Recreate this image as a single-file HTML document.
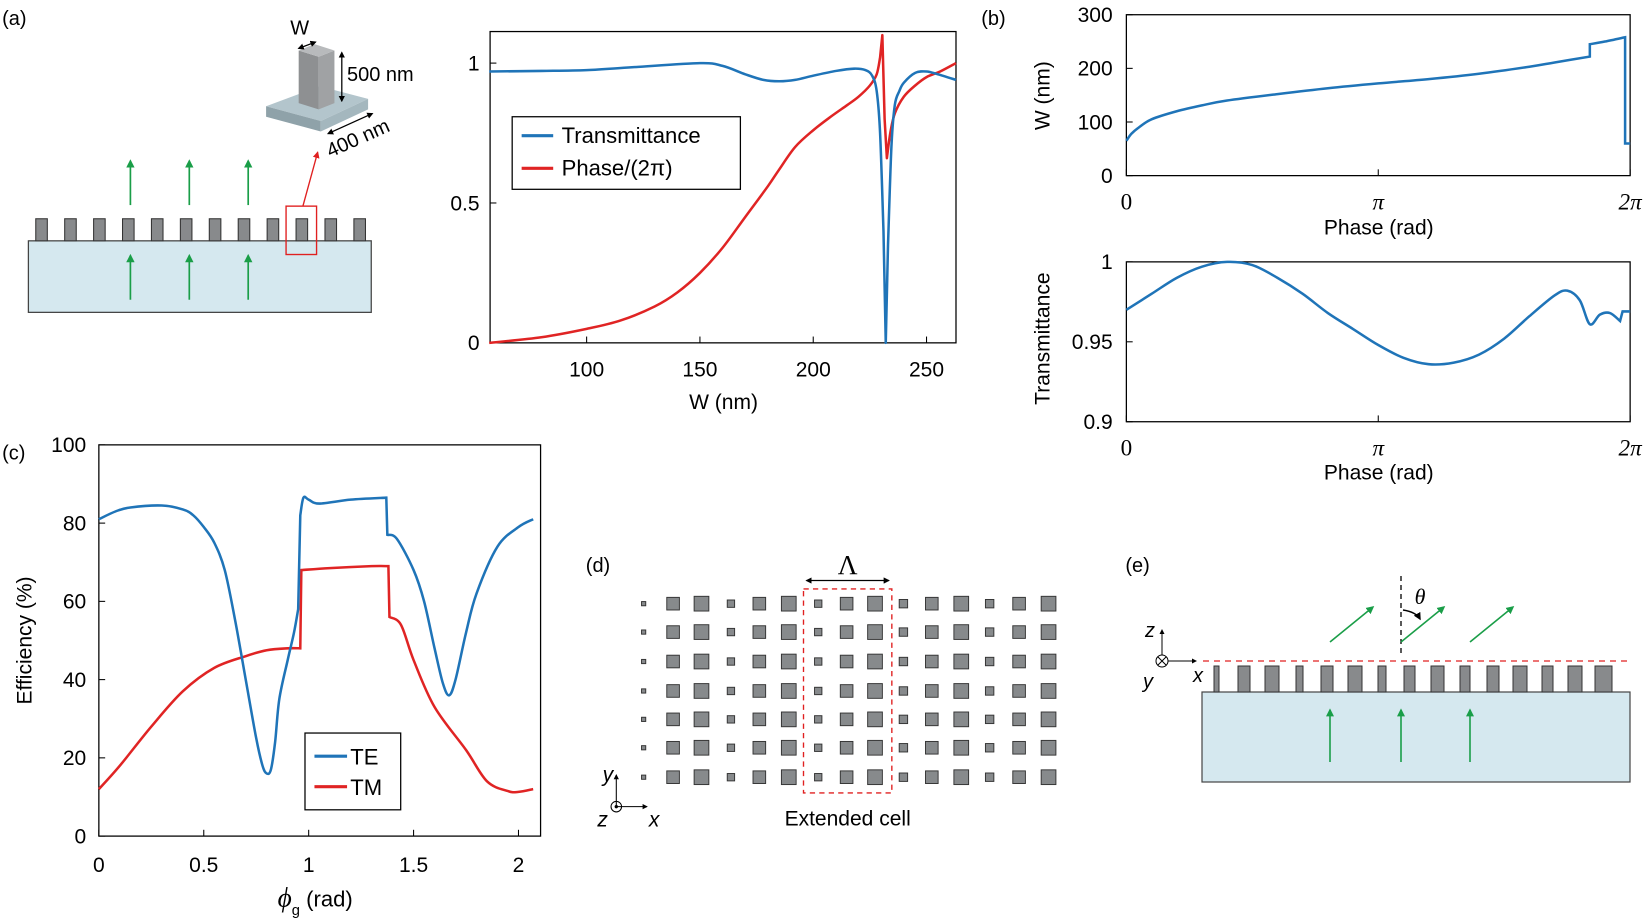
<!DOCTYPE html>
<html><head><meta charset="utf-8"><style>
html,body{margin:0;padding:0;background:#fff;}
svg{display:block;font-family:"Liberation Sans",sans-serif;}
</style></head><body>
<svg id="fig" width="1649" height="920" viewBox="0 0 1649 920" xmlns="http://www.w3.org/2000/svg">
<defs>
<marker id="ag" viewBox="0 0 10 10" refX="8" refY="5" markerWidth="5" markerHeight="5" orient="auto"><path d="M0,0L10,5L0,10z" fill="#1a9e48"/></marker>
<marker id="ak" viewBox="0 0 10 10" refX="8" refY="5" markerWidth="5" markerHeight="5" orient="auto-start-reverse"><path d="M0,0L10,5L0,10z" fill="#000"/></marker>
<marker id="ar" viewBox="0 0 10 10" refX="8" refY="5" markerWidth="5" markerHeight="5" orient="auto"><path d="M0,0L10,5L0,10z" fill="#e02020"/></marker>
</defs>
<g id="root" transform="scale(1.0517)"></g>
<g id="rootE"></g>
</svg>
<script>
// ---- Panel (a) chart data ----
const aW = [57,80,100,120,150,160,170,178,185,192,200,210,218,223,226,228,229.5,231,232,233,234.5,236,238,240,245,250,255,263];
const aTrans = [0.97,0.972,0.975,0.985,1.0,0.99,0.96,0.94,0.935,0.94,0.955,0.972,0.98,0.975,0.955,0.9,0.75,0.4,0.0,0.35,0.7,0.85,0.9,0.93,0.965,0.97,0.96,0.94];
const aPW = [57,80,100,115,130,140,150,160,170,180,185,192,200,208,215,220,225,228,229.5,230.5,231.5,232.5,234,236,240,245,250,256,263];
const aPhase = [0,0.02,0.05,0.08,0.13,0.18,0.25,0.34,0.45,0.56,0.62,0.7,0.76,0.81,0.85,0.88,0.92,0.96,1.02,1.1,0.8,0.66,0.75,0.82,0.88,0.92,0.95,0.97,1.0];
const aXTicks = [100,150,200,250];
const aYTicks = [0,0.5,1];
const aYTickLabels = ["0","0.5","1"];
// ---- Panel (b) data (phase in units of pi) ----
const bPhase = [0,0.02,0.05,0.1,0.2,0.3,0.4,0.6,0.8,1.0,1.2,1.4,1.6,1.7,1.84,1.84,1.9,1.98,1.98,2.0];
const bWidth = [65,78,90,105,120,131,140,152,163,172,180,190,203,211,222,245,250,258,60,60];
const bTPhase = [0,0.1,0.2,0.3,0.4,0.5,0.6,0.7,0.8,0.9,1.0,1.1,1.2,1.3,1.4,1.5,1.6,1.7,1.75,1.8,1.84,1.88,1.92,1.96,1.97,2.0];
const bTrans = [0.97,0.98,0.99,0.997,1.0,0.998,0.99,0.98,0.968,0.958,0.948,0.94,0.936,0.937,0.942,0.952,0.966,0.979,0.982,0.976,0.961,0.967,0.968,0.963,0.969,0.969];
const bXLabels = ["0","\u03c0","2\u03c0"];
const bXTicks = [0,1,2];
const bWTicks = [0,100,200,300];
const bTTicks = [0.9,0.95,1];
const bTTickLabels = ["0.9","0.95","1"];
// ---- Panel (c) data ----
const cTEx = [0,0.08,0.15,0.3,0.4,0.45,0.5,0.55,0.6,0.65,0.7,0.75,0.78,0.8,0.82,0.84,0.86,0.9,0.93,0.95,0.96,0.975,1.0,1.05,1.2,1.37,1.375,1.42,1.5,1.55,1.6,1.64,1.67,1.7,1.75,1.8,1.9,2.0,2.07];
const cTE = [81,83,84,84.5,83.5,82,79,75,68,55,40,25,18,16,17,24,35,45,52,58,82,86.5,86,85,86,86.5,77,76,68,60,48,39,36,40,52,62,74,79,81];
const cTMx = [0,0.1,0.25,0.4,0.55,0.7,0.8,0.9,0.96,0.965,1.1,1.3,1.38,1.385,1.44,1.5,1.6,1.75,1.85,1.95,2.0,2.07];
const cTM = [12,18,28,37,43,46,47.5,48,48,68,68.5,69,69,56,54,45,33,22,14,11.5,11.3,12];
const cXTicks = [0,0.5,1,1.5,2];
const cXTickLabels = ["0","0.5","1","1.5","2"];
const cYTicks = [0,20,40,60,80,100];

const NS="http://www.w3.org/2000/svg";
const root=document.getElementById('root');
const rootE=document.getElementById('rootE');
function el(tag,attrs,parent,text){const e=document.createElementNS(NS,tag);for(const k in attrs)e.setAttribute(k,attrs[k]);if(text!==undefined)e.textContent=text;(parent||root).appendChild(e);return e;}
function lin(d0,d1,r0,r1){return v=>r0+(v-d0)/(d1-d0)*(r1-r0);}
function pathOf(xs,ys,sx,sy){
  const P=xs.map((x,i)=>[sx(x),sy(ys[i])]);
  const n=P.length;
  function jump(i,j){return Math.abs(P[i][0]-P[j][0])<2.5;}
  let d='M'+P[0][0].toFixed(2)+','+P[0][1].toFixed(2);
  for(let i=0;i<n-1;i++){
    const a=P[i],b=P[i+1];
    if(jump(i,i+1)){d+=' L'+b[0].toFixed(2)+','+b[1].toFixed(2);continue;}
    const p0=(i>0&&!jump(i-1,i))?P[i-1]:a;
    const p3=(i+2<n&&!jump(i+1,i+2))?P[i+2]:b;
    const c1=[a[0]+(b[0]-p0[0])/6,a[1]+(b[1]-p0[1])/6];
    const c2=[b[0]-(p3[0]-a[0])/6,b[1]-(p3[1]-a[1])/6];
    d+=' C'+c1[0].toFixed(2)+','+c1[1].toFixed(2)+' '+c2[0].toFixed(2)+','+c2[1].toFixed(2)+' '+b[0].toFixed(2)+','+b[1].toFixed(2);
  }
  return d;
}
function label(x,y,t,size,anchor,parent,extra){const e=el('text',Object.assign({x:x,y:y,'font-size':size,'text-anchor':anchor||'middle',fill:'#000'},extra||{}),parent,t);return e;}

// Panel labels
[["(a)",2,24],["(b)",933,24],["(c)",2,437],["(d)",557,544],["(e)",1070,544]].forEach(p=>{
  const t=label(p[1],p[2],p[0],19,'start');
  
  
});

// ---------- Panel (a) schematic ----------
const sch=el('g',{},root);


el('rect',{x:27,y:229,width:326,height:68,fill:'#d5e8ef',stroke:'#444','stroke-width':1.2},sch);
for(let i=0;i<12;i++){el('rect',{x:34+i*27.5,y:208,width:11,height:21,fill:'#888a8c',stroke:'#333','stroke-width':1},sch);}
[124,180,236].forEach(x=>{
  el('line',{x1:x,y1:285,x2:x,y2:243,stroke:'#1a9e48','stroke-width':1.6,'marker-end':'url(#ag)'},sch);
  el('line',{x1:x,y1:195,x2:x,y2:153,stroke:'#1a9e48','stroke-width':1.6,'marker-end':'url(#ag)'},sch);
});
el('rect',{x:272,y:196,width:29,height:46,fill:'none',stroke:'#e02020','stroke-width':1.3},sch);
el('line',{x1:288,y1:196,x2:302,y2:145,stroke:'#e02020','stroke-width':1.3,'marker-end':'url(#ar)'},sch);
// unit cell 3D
el('path',{d:'M253,101 L304,82 L350,94 L305,115 Z',fill:'#b3c5cc'},sch);
el('path',{d:'M253,101 L305,115 L305,125 L253,111 Z',fill:'#8fa2a9'},sch);
el('path',{d:'M305,115 L350,94 L350,104 L305,125 Z',fill:'#a4b7be'},sch);
el('path',{d:'M284,48 L303,54 L303,104 L284,98 Z',fill:'#8e9092'},sch);
el('path',{d:'M303,54 L318,48 L318,98 L303,104 Z',fill:'#a0a2a4'},sch);
el('path',{d:'M284,48 L299,42 L318,48 L303,54 Z',fill:'#b8babc'},sch);
el('line',{x1:284,y1:46,x2:300,y2:40,stroke:'#000','stroke-width':1.2,'marker-start':'url(#ak)','marker-end':'url(#ak)'},sch);
el('line',{x1:325,y1:50,x2:325,y2:96,stroke:'#000','stroke-width':1.2,'marker-start':'url(#ak)','marker-end':'url(#ak)'},sch);
el('line',{x1:312,y1:127,x2:354,y2:108,stroke:'#000','stroke-width':1.2,'marker-start':'url(#ak)','marker-end':'url(#ak)'},sch);
label(285,33,"W",19,'middle',sch);
label(330,77,"500 nm",19,'start',sch);
label(0,0,"400 nm",19,'start',sch,{transform:'translate(314,150) rotate(-24)'});

// ---------- Panel (a) chart ----------
const ga=el('g',{},root);


const ax=lin(57.4,263,466,909), ay=lin(0,1,326,60);
el('rect',{x:466,y:30,width:443,height:296,fill:'none',stroke:'#000','stroke-width':1.2},ga);
aXTicks.forEach(t=>{el('line',{x1:ax(t),y1:326,x2:ax(t),y2:320,stroke:'#000'},ga);label(ax(t),358,String(t),20,'middle',ga);});
aYTicks.forEach((t,i)=>{el('line',{x1:466,y1:ay(t),x2:472,y2:ay(t),stroke:'#000'},ga);label(456,ay(t)+7,aYTickLabels[i],20,'end',ga);});
label(688,389,"W (nm)",20,'middle',ga);
const pA=el('path',{d:pathOf(aPW,aPhase,ax,ay),fill:'none',stroke:'#e02424','stroke-width':2.4,'stroke-linejoin':'round'},ga);


const tA=el('path',{d:pathOf(aW,aTrans,ax,ay),fill:'none',stroke:'#1f74b8','stroke-width':2.4,'stroke-linejoin':'round'},ga);


const lgA=el('g',{},ga);


el('rect',{x:487,y:111,width:217,height:69,fill:'#fff',stroke:'#000','stroke-width':1.2},lgA);
el('line',{x1:496,y1:129,x2:526,y2:129,stroke:'#1f74b8','stroke-width':3},lgA);
label(534,136,"Transmittance",21,'start',lgA);
el('line',{x1:496,y1:160,x2:526,y2:160,stroke:'#e02424','stroke-width':3},lgA);
label(534,167,"Phase/(2\u03c0)",21,'start',lgA);

// ---------- Panel (b) top ----------
const gb1=el('g',{},root);


const bx=lin(0,2,1071,1550), by1=lin(0,300,167,14);
el('rect',{x:1071,y:14,width:479,height:153,fill:'none',stroke:'#000','stroke-width':1.2},gb1);
bXTicks.forEach((t,i)=>{el('line',{x1:bx(t),y1:167,x2:bx(t),y2:161,stroke:'#000'},gb1);label(bx(t),199,bXLabels[i],22,'middle',gb1,{'font-family':'"Liberation Serif",serif','font-style':i?'italic':'normal'});});
bWTicks.forEach(t=>{el('line',{x1:1071,y1:by1(t),x2:1077,y2:by1(t),stroke:'#000'},gb1);label(1058,by1(t)+7,String(t),20,'end',gb1);});
label(1311,223,"Phase (rad)",20,'middle',gb1);
label(0,0,"W (nm)",20,'middle',gb1,{transform:'translate(998,91) rotate(-90)'});
const wB=el('path',{d:pathOf(bPhase,bWidth,bx,by1),fill:'none',stroke:'#1f74b8','stroke-width':2.4},gb1);



// ---------- Panel (b) bottom ----------
const gb2=el('g',{},root);


const by2=lin(0.9,1,401,249);
el('rect',{x:1071,y:249,width:479,height:152,fill:'none',stroke:'#000','stroke-width':1.2},gb2);
bXTicks.forEach((t,i)=>{el('line',{x1:bx(t),y1:401,x2:bx(t),y2:395,stroke:'#000'},gb2);label(bx(t),433,bXLabels[i],22,'middle',gb2,{'font-family':'"Liberation Serif",serif','font-style':i?'italic':'normal'});});
bTTicks.forEach((t,i)=>{el('line',{x1:1071,y1:by2(t),x2:1077,y2:by2(t),stroke:'#000'},gb2);label(1058,by2(t)+7,bTTickLabels[i],20,'end',gb2);});
label(1311,456,"Phase (rad)",20,'middle',gb2);
label(0,0,"Transmittance",20,'middle',gb2,{transform:'translate(998,322) rotate(-90)'});
const tB=el('path',{d:pathOf(bTPhase,bTrans,bx,by2),fill:'none',stroke:'#1f74b8','stroke-width':2.4},gb2);



// ---------- Panel (c) ----------
const gc=el('g',{},root);


const cx=lin(0,2,94,493), cy=lin(0,100,795,423);
el('rect',{x:94,y:423,width:420,height:372,fill:'none',stroke:'#000','stroke-width':1.2},gc);
cXTicks.forEach((t,i)=>{el('line',{x1:cx(t),y1:795,x2:cx(t),y2:789,stroke:'#000'},gc);label(cx(t),829,cXTickLabels[i],20,'middle',gc);});
cYTicks.forEach(t=>{el('line',{x1:94,y1:cy(t),x2:100,y2:cy(t),stroke:'#000'},gc);label(82,cy(t)+7,String(t),20,'end',gc);});
label(0,0,"Efficiency (%)",20,'middle',gc,{transform:'translate(30,609) rotate(-90)'});
const xl=el('text',{x:264,y:862,'font-size':21,fill:'#000'},gc);
xl.innerHTML='<tspan font-family="Liberation Serif,serif" font-style="italic" font-size="26">\u03d5</tspan><tspan font-size="14" dy="8">g</tspan><tspan dy="-8"> (rad)</tspan>';
const tmC=el('path',{d:pathOf(cTMx,cTM,cx,cy),fill:'none',stroke:'#e02424','stroke-width':2.4},gc);


const teC=el('path',{d:pathOf(cTEx,cTE,cx,cy),fill:'none',stroke:'#1f74b8','stroke-width':2.4},gc);


const lgC=el('g',{},gc);


el('rect',{x:290,y:697,width:91,height:73,fill:'#fff',stroke:'#000','stroke-width':1.2},lgC);
el('line',{x1:299,y1:719,x2:330,y2:719,stroke:'#1f74b8','stroke-width':3},lgC);
label(333,727,"TE",21,'start',lgC);
el('line',{x1:299,y1:748,x2:330,y2:748,stroke:'#e02424','stroke-width':3},lgC);
label(333,756,"TM",21,'start',lgC);

// ---------- Panel (d) ----------
const gd=el('g',{},root);


const dColX=[612,640,667,695,722,750,778,805,832,859,886,914,941,969,997];
const dSize=[4,12,14,7,12,14,7,12,14,8,12,14,8,12,14];
const dRowY=[574,601,629,657,684,711,739];
dRowY.forEach(y=>dColX.forEach((x,i)=>{const s=dSize[i];el('rect',{x:x-s/2,y:y-s/2,width:s,height:s,fill:'#878a8c',stroke:'#333','stroke-width':0.9},gd);}));
el('rect',{x:764,y:560,width:84,height:194,fill:'none',stroke:'#e02020','stroke-width':1.3,'stroke-dasharray':'5,4'},gd);
el('line',{x1:767,y1:552,x2:845,y2:552,stroke:'#000','stroke-width':1.2,'marker-start':'url(#ak)','marker-end':'url(#ak)'},gd);
label(806,546,"\u039b",26,'middle',gd,{'font-family':'"Liberation Serif",serif'});
label(806,785,"Extended cell",20,'middle',gd);
el('line',{x1:586,y1:767,x2:586,y2:737,stroke:'#000','stroke-width':1,'marker-end':'url(#ak)'},gd);
el('line',{x1:586,y1:767,x2:615,y2:767,stroke:'#000','stroke-width':1,'marker-end':'url(#ak)'},gd);
el('circle',{cx:586,cy:767,r:5,fill:'none',stroke:'#000'},gd);
el('circle',{cx:586,cy:767,r:1.6,fill:'#000'},gd);
label(578,743,"y",20,'middle',gd,{'font-style':'italic'});
label(573,786,"z",20,'middle',gd,{'font-style':'italic'});
label(622,786,"x",20,'middle',gd,{'font-style':'italic'});

// ---------- Panel (e) (real pixel coords) ----------
const ge=el('g',{},rootE);


const ePL=[1214,1238,1265,1296,1321,1348,1378,1404,1431,1460,1487,1513,1542,1568,1595];
const ePR=[1219,1250,1279,1303,1333,1362,1386,1415,1444,1470,1499,1527,1553,1582,1612];
el('rect',{x:1202,y:692,width:428,height:90,fill:'#d5e8ef',stroke:'#444','stroke-width':1.2},ge);
ePL.forEach((l,i)=>el('rect',{x:l,y:666,width:ePR[i]-l,height:26,fill:'#888a8c',stroke:'#333','stroke-width':1},ge));
el('line',{x1:1203,y1:661,x2:1630,y2:661,stroke:'#e02020','stroke-width':1.3,'stroke-dasharray':'6,5'},ge);
el('line',{x1:1401,y1:576,x2:1401,y2:656,stroke:'#000','stroke-width':1.3,'stroke-dasharray':'5,4'},ge);
[1330,1401,1470].forEach(x=>{
  el('line',{x1:x,y1:762,x2:x,y2:710,stroke:'#1a9e48','stroke-width':1.6,'marker-end':'url(#ag)'},ge);
  el('line',{x1:x,y1:642,x2:x+43,y2:607,stroke:'#1a9e48','stroke-width':1.6,'marker-end':'url(#ag)'},ge);
});
el('path',{d:'M1403,610 Q1416,612 1420,619',fill:'none',stroke:'#000','stroke-width':1.5,'marker-end':'url(#ak)'},ge);
label(1420,604,"\u03b8",22,'middle',ge,{'font-family':'"Liberation Serif",serif','font-style':'italic'});
el('line',{x1:1162,y1:661,x2:1162,y2:630,stroke:'#000','stroke-width':1,'marker-end':'url(#ak)'},ge);
el('line',{x1:1162,y1:661,x2:1196,y2:661,stroke:'#000','stroke-width':1,'marker-end':'url(#ak)'},ge);
el('circle',{cx:1162,cy:661,r:6,fill:'#fff',stroke:'#000'},ge);
el('path',{d:'M1158,657L1166,665M1166,657L1158,665',stroke:'#000','stroke-width':1},ge);
label(1150,637,"z",20,'middle',ge,{'font-style':'italic'});
label(1148,688,"y",20,'middle',ge,{'font-style':'italic'});
label(1198,682,"x",20,'middle',ge,{'font-style':'italic'});
</script>
</body></html>
